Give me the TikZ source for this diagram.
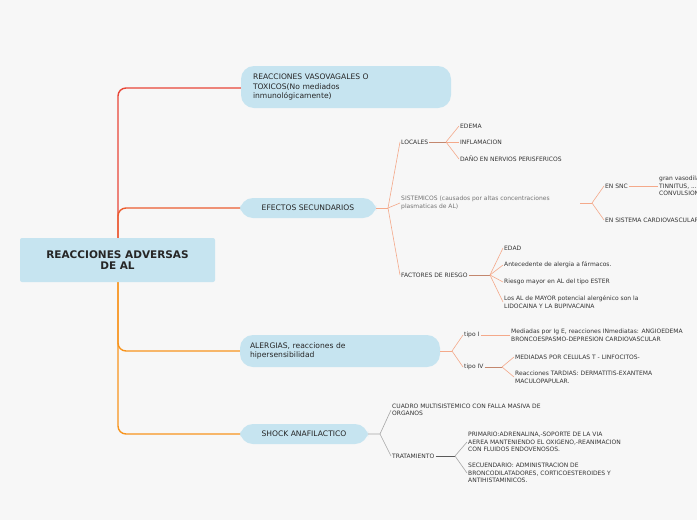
\documentclass[tikz,border=0pt]{standalone}
\usepackage{fontspec}
\setmainfont{DejaVu Sans}
\begin{document}
\begin{tikzpicture}[x=1pt,y=-1pt,
  pill/.style={fill=boxc,rounded corners=13pt,inner sep=0pt,text=black!85},
  lf/.style={font=\fontsize{6}{7.6}\selectfont,text=black!80,align=left,anchor=west,inner sep=1pt},
  br/.style={draw=lnc,line width=0.6pt},
  brd/.style={draw=lnc!80!black,line width=1pt}]
\definecolor{boxc}{HTML}{C6E4F0}
\definecolor{lnc}{HTML}{F4A98A}
\definecolor{redc}{HTML}{E84638}
\definecolor{orc}{HTML}{F7941D}
\useasboundingbox (0,0) rectangle (697,520);
\clip (0,0) rectangle (697,520);
\fill[gray!6] (0,0) rectangle (697,520);
% trunk
\draw[redc,line width=1.4pt,rounded corners=8pt] (118,238) -- (118,88) -- (242,88);
\draw[redc!70!orc,line width=1.4pt,rounded corners=8pt] (118,238) -- (118,208) -- (242,208);
\draw[orc,line width=1.4pt,rounded corners=8pt] (118,282) -- (118,434) -- (242,434);
\draw[orc,line width=1.4pt,rounded corners=8pt] (118,282) -- (118,351) -- (242,351);
\node[fill=boxc,rounded corners=2pt,minimum width=195pt,minimum height=44pt,align=center,font=\bfseries\fontsize{10.5}{11.5}\selectfont,text=black!85] (root) at (117.5,260) {REACCIONES ADVERSAS\\DE AL};
% level 1
\node[pill,minimum width=210pt,minimum height=42pt,text width=186pt,align=left,font=\fontsize{7.6}{9.6}\selectfont] (vaso) at (346,87) {REACCIONES VASOVAGALES O\\TOXICOS(No mediados\\inmunológicamente)};
\node[pill,minimum width=136pt,minimum height=20pt,font=\fontsize{7.6}{9}\selectfont] (efe) at (308,208) {EFECTOS SECUNDARIOS};
\node[pill,minimum width=200pt,minimum height=32pt,text width=180pt,align=left,font=\fontsize{7.6}{9.6}\selectfont] (ale) at (340,351) {ALERGIAS, reacciones de\\hipersensibilidad};
\node[pill,minimum width=128pt,minimum height=20pt,font=\fontsize{7.6}{9}\selectfont] (sho) at (304,434) {SHOCK ANAFILACTICO};
% efectos
\node[lf] (loc) at (400,142) {LOCALES};
\node[lf,text=black!55] (sis) at (400,203) {SISTEMICOS (causados por altas concentraciones\\plasmaticas de AL)};
\node[lf] (fac) at (400,275) {FACTORES DE RIESGO};
\coordinate (e0) at (388,208);
\draw[br] (efe.east) -- (e0); \draw[br] (e0) -- (loc.west); \draw[br] (e0) -- (sis.west); \draw[br] (e0) -- (fac.west);
\node[lf] (ede) at (459,126) {EDEMA};
\node[lf] (inf) at (459,142) {INFLAMACION};
\node[lf] (dan) at (459,159) {DAÑO EN NERVIOS PERISFERICOS};
\coordinate (l0) at (446,142);
\draw[brd] (loc.east) -- (l0); \foreach \n in {ede,inf,dan} \draw[br] (l0) -- (\n.west);
\node[lf] (snc) at (604,186) {EN SNC};
\node[lf] (car) at (604,220) {EN SISTEMA CARDIOVASCULAR};
\coordinate (s0) at (592,203);
\draw[br] (580,203) -- (s0); \draw[br] (s0) -- (snc.west); \draw[br] (s0) -- (car.west);
\node[lf] (gran) at (658,186) {gran vasodilatacion\\TINNITUS, ...\\CONVULSIONES};
\draw[br] (snc.east) -- (gran.west);
\node[lf] (eda) at (503,248) {EDAD};
\node[lf] (ant) at (503,265) {Antecedente de alergia a fármacos.};
\node[lf] (rie) at (503,282) {Riesgo mayor en AL del tipo ESTER};
\node[lf] (los) at (503,302) {Los AL de MAYOR potencial alergénico son la\\LIDOCAINA Y LA BUPIVACAINA};
\coordinate (f0) at (490,275);
\draw[brd] (fac.east) -- (f0); \foreach \n in {eda,ant,rie,los} \draw[br] (f0) -- (\n.west);
% alergias
\node[lf] (t1) at (463,335) {tipo I};
\node[lf] (t4) at (463,367) {tipo IV};
\coordinate (a0) at (452,351);
\draw[br] (ale.east) -- (a0); \draw[br] (a0) -- (t1.west); \draw[br] (a0) -- (t4.west);
\node[lf] (med) at (510,335) {Mediadas por Ig E, reacciones INmediatas: ANGIOEDEMA\\BRONCOESPASMO-DEPRESION CARDIOVASCULAR};
\draw[br] (t1.east) -- (med.west);
\node[lf] (cel) at (514,357) {MEDIADAS POR CELULAS T - LINFOCITOS-};
\node[lf] (tar) at (514,377) {Reacciones TARDIAS: DERMATITIS-EXANTEMA\\MACULOPAPULAR.};
\coordinate (t40) at (502,367);
\draw[brd] (t4.east) -- (t40); \draw[br] (t40) -- (cel.west); \draw[br] (t40) -- (tar.west);
% shock
\node[lf] (cua) at (391,410) {CUADRO MULTISISTEMICO CON FALLA MASIVA DE\\ORGANOS};
\node[lf] (tra) at (391,456) {TRATAMIENTO};
\coordinate (h0) at (380,434);
\draw[draw=gray!70,line width=0.6pt] (sho.east) -- (h0) -- (cua.west) (h0) -- (tra.west);
\node[lf] (pri) at (467,442) {PRIMARIO:ADRENALINA,-SOPORTE DE LA VIA\\AEREA MANTENIENDO EL OXIGENO,-REANIMACION\\CON FLUIDOS ENDOVENOSOS.};
\node[lf] (sec) at (467,473) {SECUENDARIO: ADMINISTRACION DE\\BRONCODILATADORES, CORTICOESTEROIDES Y\\ANTIHISTAMINICOS.};
\coordinate (tr0) at (455,456);
\draw[draw=gray!70!black,line width=0.9pt] (tra.east) -- (tr0);
\draw[draw=gray!70,line width=0.6pt] (tr0) -- (pri.west) (tr0) -- (sec.west);
\end{tikzpicture}
\end{document}
